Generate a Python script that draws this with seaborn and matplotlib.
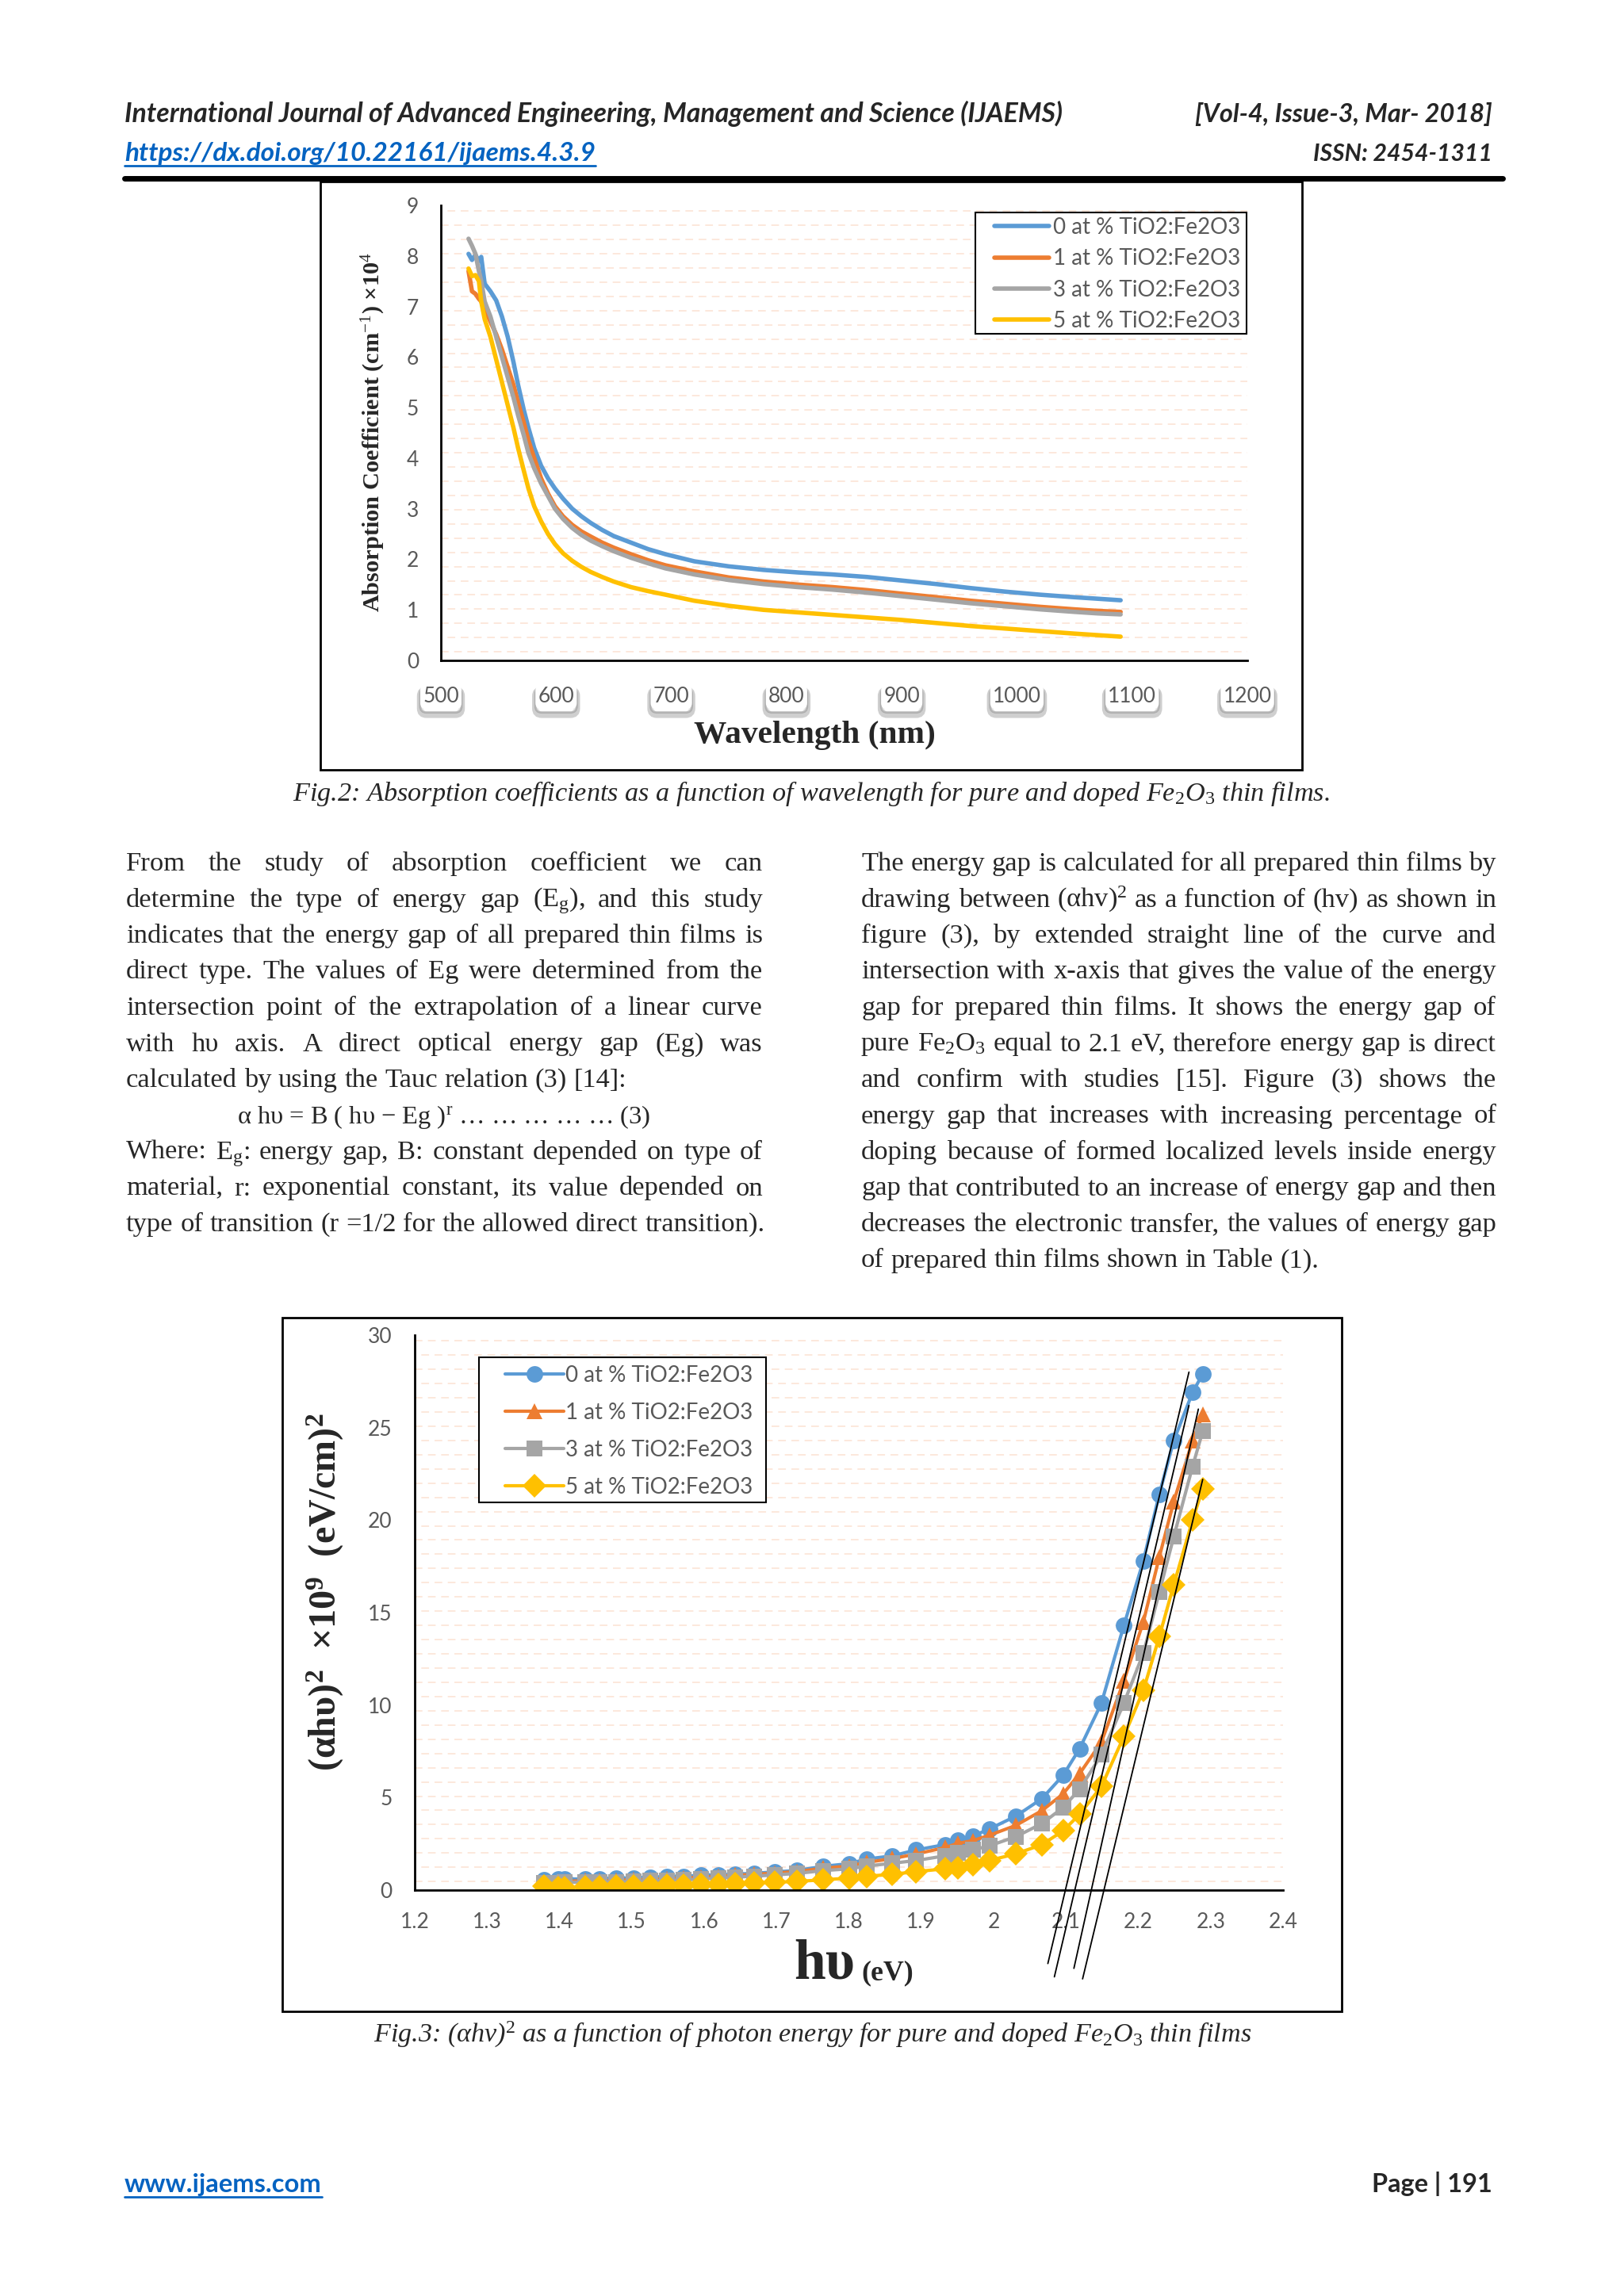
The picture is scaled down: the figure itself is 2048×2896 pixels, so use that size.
import numpy as np
import pandas as pd
import matplotlib
matplotlib.use("Agg")
import matplotlib.pyplot as plt
import matplotlib.patheffects as pe
from matplotlib.patches import Rectangle
from matplotlib.lines import Line2D
import seaborn as sns

W, H = 2048, 2896

# ---------------- data: Fig.2 absorption coefficient ----------------
wavelength = [524, 527, 530, 533, 535, 538, 543, 548, 553, 558, 563, 567, 572, 576,
              581, 587, 593, 599, 606, 614, 622, 630, 640, 650, 665, 680, 695, 720,
              750, 780, 810, 840, 870, 900, 930, 960, 990, 1020, 1050, 1070, 1090]
alpha_0 = [8.04, 7.92, 8.02, 7.90, 7.98, 7.45, 7.30, 7.12, 6.80, 6.40, 5.90, 5.45, 4.95, 4.60,
           4.20, 3.85, 3.60, 3.40, 3.20, 3.00, 2.85, 2.72, 2.58, 2.46, 2.33, 2.20, 2.10, 1.96,
           1.86, 1.79, 1.74, 1.70, 1.65, 1.58, 1.51, 1.43, 1.36, 1.30, 1.25, 1.22, 1.19]
alpha_1 = [7.70, 7.30, 7.25, 7.15, 7.10, 6.95, 6.70, 6.45, 6.15, 5.80, 5.45, 5.10, 4.70, 4.35,
           4.00, 3.60, 3.30, 3.05, 2.85, 2.68, 2.55, 2.45, 2.33, 2.23, 2.10, 1.98, 1.88, 1.76,
           1.64, 1.56, 1.50, 1.45, 1.39, 1.32, 1.25, 1.18, 1.12, 1.06, 1.01, 0.98, 0.96]
alpha_3 = [8.34, 8.20, 8.04, 7.70, 7.50, 7.10, 6.80, 6.40, 6.00, 5.60, 5.20, 4.85, 4.45, 4.10,
           3.80, 3.50, 3.25, 3.00, 2.80, 2.62, 2.48, 2.37, 2.26, 2.16, 2.03, 1.92, 1.82, 1.70,
           1.59, 1.51, 1.45, 1.40, 1.34, 1.27, 1.20, 1.13, 1.07, 1.01, 0.96, 0.93, 0.91]
alpha_5 = [7.75, 7.60, 7.62, 7.50, 7.10, 6.75, 6.40, 5.95, 5.50, 5.05, 4.60, 4.20, 3.75, 3.40,
           3.05, 2.75, 2.50, 2.30, 2.12, 1.97, 1.85, 1.75, 1.65, 1.56, 1.45, 1.37, 1.30, 1.18,
           1.08, 1.00, 0.95, 0.90, 0.85, 0.80, 0.74, 0.68, 0.63, 0.58, 0.53, 0.50, 0.47]
wl_ticks = ["500", "600", "700", "800", "900", "1000", "1100", "1200"]
abs_ticks = ["0", "1", "2", "3", "4", "5", "6", "7", "8", "9"]

# ---------------- data: Fig.3 Tauc plot ----------------
photon_energy = [1.379, 1.398, 1.407, 1.436, 1.455, 1.478, 1.502, 1.525, 1.549, 1.572, 1.596, 1.620,
                 1.643, 1.669, 1.698, 1.728, 1.764, 1.800, 1.825, 1.860, 1.893, 1.933, 1.951, 1.971,
                 1.994, 2.031, 2.067, 2.096, 2.119, 2.149, 2.180, 2.207, 2.229, 2.249, 2.275, 2.289]
tauc_0 = [0.55, 0.58, 0.60, 0.60, 0.62, 0.64, 0.66, 0.70, 0.72, 0.75, 0.80, 0.82, 0.86, 0.91, 0.98, 1.06,
          1.28, 1.43, 1.68, 1.85, 2.17, 2.46, 2.70, 2.92, 3.30, 4.00, 4.95, 6.20, 7.65, 10.1, 14.3, 17.8,
          21.4, 24.3, 26.9, 27.9]
tauc_1 = [0.45, 0.47, 0.48, 0.50, 0.50, 0.53, 0.55, 0.57, 0.60, 0.65, 0.70, 0.75, 0.80, 0.85, 0.92, 1.00,
          1.18, 1.30, 1.50, 1.70, 1.95, 2.30, 2.53, 2.67, 2.96, 3.50, 4.30, 5.20, 6.30, 8.00, 11.3, 14.5,
          18.0, 21.0, 24.3, 25.7]
tauc_3 = [0.40, 0.40, 0.42, 0.42, 0.43, 0.45, 0.47, 0.50, 0.52, 0.55, 0.60, 0.65, 0.70, 0.75, 0.82, 0.90,
          1.05, 1.15, 1.30, 1.45, 1.60, 1.85, 2.03, 2.17, 2.39, 2.89, 3.60, 4.46, 5.46, 7.31, 10.1, 12.8,
          16.1, 19.1, 22.9, 24.8]
tauc_5 = [0.20, 0.15, 0.15, 0.17, 0.18, 0.20, 0.20, 0.22, 0.25, 0.27, 0.30, 0.32, 0.35, 0.38, 0.42, 0.47,
          0.55, 0.65, 0.75, 0.85, 1.00, 1.15, 1.20, 1.39, 1.60, 1.96, 2.46, 3.20, 4.10, 5.60, 8.30, 10.8,
          13.7, 16.5, 20.0, 21.7]
# extrapolated straight lines (end points)
tangent_x0 = [2.075, 2.084, 2.111, 2.123]
tangent_y0 = [-3.97, -4.69, -4.23, -4.80]
tangent_x1 = [2.270, 2.270, 2.283, 2.289]
tangent_y1 = [28.0, 26.2, 26.0, 22.2]
hv_ticks = ["1.2", "1.3", "1.4", "1.5", "1.6", "1.7", "1.8", "1.9", "2", "2.1", "2.2", "2.3", "2.4"]
tauc_ticks = ["0", "5", "10", "15", "20", "25", "30"]

series = ["0 at % TiO2:Fe2O3", "1 at % TiO2:Fe2O3", "3 at % TiO2:Fe2O3", "5 at % TiO2:Fe2O3"]
colors = ["#5B9BD5", "#ED7D31", "#A5A5A5", "#FFC000"]
markers = ["o", "^", "s", "D"]

df1 = pd.DataFrame({
    "wl": wavelength * 4,
    "alpha": alpha_0 + alpha_1 + alpha_3 + alpha_5,
    "series": sum([[s] * len(wavelength) for s in series], []),
})
df2 = pd.DataFrame({
    "hv": photon_energy * 4,
    "tauc": tauc_0 + tauc_1 + tauc_3 + tauc_5,
    "series": sum([[s] * len(photon_energy) for s in series], []),
})

sns.set_style("white")
plt.rcParams["font.family"] = ["Lato", "DejaVu Sans"]
plt.rcParams["mathtext.fontset"] = "custom"
plt.rcParams["mathtext.rm"] = "Liberation Serif"
plt.rcParams["mathtext.it"] = "Liberation Serif:italic"
plt.rcParams["mathtext.bf"] = "Liberation Serif:bold"
plt.rcParams["lines.scale_dashes"] = False

SERIF = ["Liberation Serif", "DejaVu Serif"]
TICK_GREY = "#595959"

fig = plt.figure(figsize=(W / 100, H / 100), dpi=100)
fig.patch.set_facecolor("white")
renderer = fig.canvas.get_renderer()


def fx(x):
    return x / W


def fy(y):
    return 1 - y / H


def put(x, y, s, target=None, along="x", **kw):
    kw.setdefault("va", "baseline")
    t = fig.text(fx(x), fy(y), s, **kw)
    if target is not None:
        bb = t.get_window_extent(renderer)
        cur = bb.width if along == "x" else bb.height
        t.set_fontsize(t.get_fontsize() * target / cur)
    return t


def underline(t, y, color, lw=2.0):
    bb = t.get_window_extent(renderer)
    fig.add_artist(Line2D([bb.x0 / W, bb.x1 / W], [fy(y), fy(y)], transform=fig.transFigure,
                          color=color, lw=lw))


def paragraph(lines, x0, x1, y0, dy, size, plain=()):
    for i, line in enumerate(lines):
        y = y0 + i * dy
        words = line.split(" ")
        ts = [fig.text(0, fy(y), w, fontsize=size, family=SERIF, va="baseline") for w in words]
        ws = [t.get_window_extent(renderer).width for t in ts]
        space = size * 0.25 * 100 / 72
        gap = space if (i in plain or len(words) == 1) else max((x1 - x0 - sum(ws)) / (len(words) - 1), space * 0.6)
        x = x0
        for t, w in zip(ts, ws):
            t.set_x(fx(x))
            x += w + gap


def paper_pattern(ax, rows):
    for k in range(rows):
        yy = (k + 0.6) / rows
        ax.plot([0, 1], [yy, yy], transform=ax.transAxes, color="#FCE8DC", lw=1.4,
                linestyle=(6 if k % 2 else 0, (7, 5)), zorder=0.5)


def legend_box(ax, x0, y0, x1, y1):
    ax.add_patch(Rectangle((fx(x0), fy(y1)), (x1 - x0) / W, (y1 - y0) / H, transform=fig.transFigure,
                           fc="white", ec="black", lw=1.5, clip_on=False, zorder=4))


# ---------------- page header / footer ----------------
put(157, 154, "International Journal of Advanced Engineering, Management and Science (IJAEMS)", target=1182,
    fontsize=20, fontweight="bold", fontstyle="italic")
put(1882, 154, "[Vol-4, Issue-3, Mar- 2018]", target=375, ha="right",
    fontsize=20, fontweight="bold", fontstyle="italic")
doi = put(157, 203, "https://dx.doi.org/10.22161/ijaems.4.3.9", target=593,
          fontsize=20, fontweight="bold", fontstyle="italic", color="#0563C1")
underline(doi, 209, "#0563C1")
put(1882, 203, "ISSN: 2454-1311", target=226, ha="right", fontsize=20, fontweight="bold", fontstyle="italic")
fig.add_artist(Line2D([fx(157), fx(1895)], [fy(225), fy(225)], transform=fig.transFigure, color="black", lw=5))

web = put(157, 2765, "www.ijaems.com", target=249, fontsize=20, fontweight="bold", color="#0563C1")
underline(web, 2771, "#0563C1")
put(1882, 2765, "Page | 191", target=152, ha="right", fontsize=20, fontweight="bold")

# ---------------- Fig.2 ----------------
fig.add_artist(Rectangle((fx(404), fy(971)), (1642 - 404) / W, (971 - 229) / H, transform=fig.transFigure,
                         fill=False, ec="black", lw=2))
ax1 = fig.add_axes([fx(556), fy(833), (1573 - 556) / W, (833 - 259) / H])
paper_pattern(ax1, 32)
sns.lineplot(data=df1, x="wl", y="alpha", hue="series", hue_order=series, palette=colors,
             linewidth=4, estimator=None, sort=False, ax=ax1)
ax1.set_xlim(500, 1200)
ax1.set_ylim(0, 9)
ax1.set_xticks([float(s) for s in wl_ticks], wl_ticks)
ax1.set_yticks([float(s) for s in abs_ticks], abs_ticks)
ax1.tick_params(axis="both", length=0, labelsize=19, labelcolor=TICK_GREY)
ax1.tick_params(axis="x", pad=24)
ax1.tick_params(axis="y", pad=20)
ax1.set_xlabel("")
ax1.set_ylabel("")
for side in ["top", "right"]:
    ax1.spines[side].set_visible(False)
for side in ["left", "bottom"]:
    ax1.spines[side].set_color("black")
    ax1.spines[side].set_linewidth(2)
for lbl in ax1.get_xticklabels():
    lbl.set_bbox(dict(boxstyle="round,pad=0.12,rounding_size=0.3", fc="white", ec="none"))
    lbl.get_bbox_patch().set_path_effects(
        [pe.Stroke(offset=(0, -5), linewidth=6, foreground="#a9a9a9", alpha=0.55),
         pe.Stroke(offset=(0, -3), linewidth=2, foreground="#8f8f8f", alpha=0.5),
         pe.Normal()])
h, l = ax1.get_legend_handles_labels()
legend_box(ax1, 1230, 268, 1572, 421)
leg1 = ax1.legend(h, l, loc="upper left", bbox_to_anchor=(fx(1254), fy(274)), bbox_transform=fig.transFigure,
                  frameon=False, prop={"family": "Lato", "size": 20}, labelcolor=TICK_GREY,
                  handlelength=2.5, handletextpad=0.15, labelspacing=0.48, borderpad=0, borderaxespad=0)
leg1.set_zorder(6)
for ln in leg1.get_lines():
    ln.set_linewidth(4)

put(1027, 927, "Wavelength (nm)", target=305, va="center", ha="center",
    fontsize=28, fontweight="bold", family=SERIF)
put(471, 545, "Absorption Coefficient (cm$^{-1}$) \u00d710$^{4}$", target=454, along="y",
    va="center", ha="center", rotation=90, fontsize=22, fontweight="bold", family=SERIF)
put(1023, 1010, "Fig.2: Absorption coefficients as a function of wavelength for pure and doped "
    "Fe$_2$O$_3$ thin films.", target=1308, ha="center", fontsize=22, fontstyle="italic", family=SERIF)

# ---------------- body text ----------------
left_lines = [
    "From the study of absorption coefficient we can",
    "determine the type of energy gap (E$_\\mathrm{g}$), and this study",
    "indicates that the energy gap of all prepared thin films is",
    "direct type. The values of Eg were determined from the",
    "intersection point of the extrapolation of a linear curve",
    "with h\u03c5 axis. A direct optical energy gap (Eg) was",
    "calculated by using the Tauc relation (3) [14]:",
]
left_lines2 = [
    "Where: E$_\\mathrm{g}$: energy gap, B: constant depended on type of",
    "material, r: exponential constant, its value depended on",
    "type of transition (r =1/2 for the allowed direct transition).",
]
right_lines = [
    "The energy gap is calculated for all prepared thin films by",
    "drawing between (\u03b1hv)$^2$ as a function of (hv) as shown in",
    "figure (3), by extended straight line of the curve and",
    "intersection with x-axis that gives the value of the energy",
    "gap for prepared thin films. It shows the energy gap of",
    "pure Fe$_2$O$_3$ equal to 2.1 eV, therefore energy gap is direct",
    "and confirm with studies [15]. Figure (3) shows the",
    "energy gap that increases with increasing percentage of",
    "doping because of formed localized levels inside energy",
    "gap that contributed to an increase of energy gap and then",
    "decreases the electronic transfer, the values of energy gap",
    "of prepared thin films shown in Table (1).",
]
probe = fig.text(0, 0, left_lines2[-1], fontsize=20, family=SERIF)
body_size = 20 * 803 / probe.get_window_extent(renderer).width
probe.remove()
paragraph(left_lines, 159, 962, 1098, 45.5, body_size, plain=(6,))
put(299, 1416.5, "\u03b1 h\u03c5 = B ( h\u03c5 \u2212 Eg )$^\\mathrm{r}$ \u2026 \u2026 \u2026 \u2026 \u2026 (3)",
    target=521, fontsize=body_size, family=SERIF)
paragraph(left_lines2, 159, 962, 1462, 45.5, body_size, plain=(2,))
paragraph(right_lines, 1086, 1887, 1098, 45.5, body_size, plain=(11,))

# ---------------- Fig.3 ----------------
fig.add_artist(Rectangle((fx(356), fy(2537)), (1692 - 356) / W, (2537 - 1662) / H, transform=fig.transFigure,
                         fill=False, ec="black", lw=2))
ax2 = fig.add_axes([fx(523), fy(2384), (1618 - 523) / W, (2384 - 1684) / H])
paper_pattern(ax2, 39)
sns.lineplot(data=df2, x="hv", y="tauc", hue="series", style="series", hue_order=series, style_order=series,
             palette=colors, markers=markers, dashes=False, markersize=15, markeredgewidth=0,
             linewidth=3, estimator=None, sort=False, ax=ax2)
for x0, y0, x1, y1 in zip(tangent_x0, tangent_y0, tangent_x1, tangent_y1):
    ax2.plot([x0, x1], [y0, y1], color="black", lw=1.3, clip_on=False, zorder=5)
ax2.set_xlim(1.2, 2.4)
ax2.set_ylim(0, 30)
ax2.set_xticks([float(s) for s in hv_ticks], hv_ticks)
ax2.set_yticks([float(s) for s in tauc_ticks], tauc_ticks)
ax2.tick_params(axis="both", direction="inout", length=13, width=1.5, color="black",
                labelsize=19, labelcolor=TICK_GREY)
ax2.tick_params(axis="x", pad=14)
ax2.tick_params(axis="y", pad=14)
ax2.set_xlabel("")
ax2.set_ylabel("")
for side in ["top", "right"]:
    ax2.spines[side].set_visible(False)
for side in ["left", "bottom"]:
    ax2.spines[side].set_color("black")
    ax2.spines[side].set_linewidth(2)
h, l = ax2.get_legend_handles_labels()
legend_box(ax2, 604, 1712, 966, 1895)
leg2 = ax2.legend(h, l, loc="upper left", bbox_to_anchor=(fx(637), fy(1722)), bbox_transform=fig.transFigure,
                  frameon=False, prop={"family": "Lato", "size": 20}, labelcolor=TICK_GREY,
                  handlelength=2.65, handletextpad=0.1, labelspacing=0.75, borderpad=0, borderaxespad=0)
leg2.set_zorder(6)
for ln in leg2.get_lines():
    ln.set_linewidth(3)
    ln.set_markersize(15)
    ln.set_markeredgewidth(0)

put(410, 2008, "(\u03b1h\u03c5)$^{\\mathbf{2}}$  \u00d710$^{\\mathbf{9}}$  (eV/cm)$^{\\mathbf{2}}$", target=453,
    along="y", va="center", ha="center", rotation=90, fontsize=26, fontweight="bold", family=SERIF)
put(1001, 2495, "h\u03c5", target=77, fontsize=36, fontweight="bold", family=SERIF)
put(1086, 2497, "(eV)", target=66, fontsize=24, fontweight="bold", family=SERIF)
put(1025, 2576, "Fig.3: (\u03b1hv)$^2$ as a function of photon energy for pure and doped Fe$_2$O$_3$ thin films",
    target=1108, ha="center", fontsize=22, fontstyle="italic", family=SERIF)

fig.savefig("out.png", dpi=100, facecolor="white")
